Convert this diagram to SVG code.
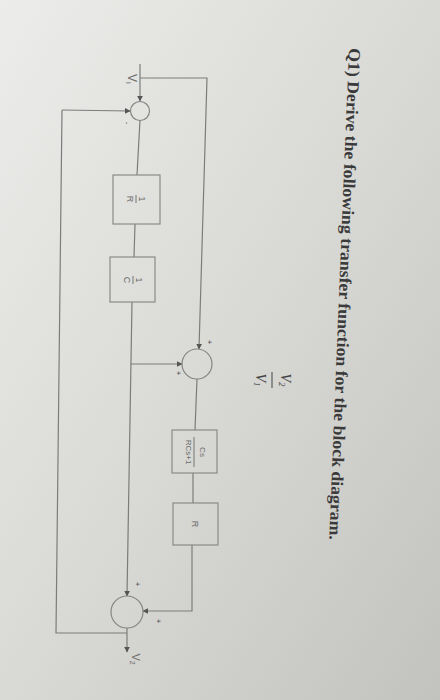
<svg xmlns="http://www.w3.org/2000/svg" width="440" height="700" viewBox="0 0 440 700">
<defs>
<linearGradient id="bg" x1="0" y1="0" x2="1" y2="1">
<stop offset="0" stop-color="#ececea"/>
<stop offset="0.5" stop-color="#d9d9d6"/>
<stop offset="1" stop-color="#c2c2be"/>
</linearGradient>
<marker id="ah" viewBox="0 0 10 10" refX="9" refY="5" markerWidth="6" markerHeight="6" orient="auto" markerUnits="userSpaceOnUse">
<path d="M0,0 L10,5 L0,10 z" fill="#555"/>
</marker>
<style>
.ln{fill:none;stroke:#7c7c7a;stroke-width:1.2}
.box{fill:none;stroke:#8a8a88;stroke-width:1.2}
.sj{fill:none;stroke:#858583;stroke-width:1.2}
.t{font-family:"Liberation Sans",Arial,sans-serif;fill:#6a6a68;text-anchor:middle;dominant-baseline:central}
.sg{font-family:"Liberation Sans",Arial,sans-serif;fill:#555;font-size:8px;text-anchor:middle;dominant-baseline:central}
.ttl{font-family:"Liberation Serif","Times New Roman",serif;fill:#3a3a3a;font-size:17px;font-weight:bold}
.tf{font-family:"Liberation Serif","Times New Roman",serif;fill:#444;font-size:14px;font-style:italic;text-anchor:middle;dominant-baseline:central}
</style>
</defs>
<rect width="440" height="700" fill="url(#bg)"/>
<text class="ttl" transform="translate(349,48) rotate(92.3)" textLength="492" lengthAdjust="spacingAndGlyphs">Q1)  Derive the following transfer function for the block diagram.</text>
<g id="tf" transform="translate(272,380) rotate(90)">
<text class="tf" x="0" y="-13">V<tspan font-size="9" dy="3">2</tspan></text>
<line x1="-8" y1="0" x2="8" y2="0" stroke="#444" stroke-width="1"/>
<text class="tf" x="0" y="12">V<tspan font-size="9" dy="3">1</tspan></text>
</g>
<g id="connectors">
<line class="ln" x1="140" y1="64" x2="140" y2="101" marker-end="url(#ah)"/>
<polyline class="ln" points="140,78 207,78 199,349" marker-end="url(#ah)"/>
<line class="ln" x1="62" y1="110" x2="130" y2="111" marker-end="url(#ah)"/>
<polyline class="ln" points="62,110 56,633 127,633"/>
<line class="ln" x1="140" y1="120" x2="137" y2="175"/>
<line class="ln" x1="135" y1="224" x2="134" y2="257"/>
<line class="ln" x1="132" y1="302" x2="127" y2="596" marker-end="url(#ah)"/>
<line class="ln" x1="131" y1="364" x2="182" y2="364" marker-end="url(#ah)"/>
<line class="ln" x1="197" y1="379" x2="195" y2="430"/>
<line class="ln" x1="193" y1="473" x2="193" y2="503"/>
<polyline class="ln" points="192,545 192,611 143,611" marker-end="url(#ah)"/>
<line class="ln" x1="127" y1="628" x2="127" y2="652" marker-end="url(#ah)"/>
</g>
<g id="vi">
<text class="t" font-size="12" transform="translate(132,79) rotate(90)">V<tspan font-size="8" dy="3">i</tspan></text>
</g>
<g id="sum1">
<circle class="sj" cx="140" cy="111" r="9.5"/>
<text class="sg" transform="translate(127,123) rotate(90)">-</text>
</g>
<g id="blockR1">
<rect class="box" x="113" y="175" width="47" height="49"/>
<g transform="translate(136,199) rotate(90)">
<text class="t" font-size="9" x="0" y="-6">1</text>
<line x1="-4" y1="0" x2="4" y2="0" stroke="#6a6a68" stroke-width="0.9"/>
<text class="t" font-size="9" x="0" y="6">R</text>
</g>
</g>
<g id="blockC1">
<rect class="box" x="110" y="257" width="45" height="45"/>
<g transform="translate(133,280) rotate(90)">
<text class="t" font-size="9" x="0" y="-6">1</text>
<line x1="-4" y1="0" x2="4" y2="0" stroke="#6a6a68" stroke-width="0.9"/>
<text class="t" font-size="9" x="0" y="6">C</text>
</g>
</g>
<g id="sum2">
<circle class="sj" cx="197" cy="364" r="15"/>
<text class="sg" transform="translate(209,342) rotate(90)">+</text>
<text class="sg" transform="translate(178,373) rotate(90)">+</text>
</g>
<g id="blockG">
<rect class="box" x="172" y="430" width="45" height="43"/>
<g transform="translate(194,452) rotate(90)">
<text class="t" font-size="8" x="0" y="-8">Cs</text>
<line x1="-15" y1="0" x2="15" y2="0" stroke="#6a6a68" stroke-width="0.9"/>
<text class="t" font-size="8" x="0" y="6">RCs+1</text>
</g>
</g>
<g id="blockR2">
<rect class="box" x="173" y="503" width="45" height="42"/>
<text class="t" font-size="9" transform="translate(195,524) rotate(90)">R</text>
</g>
<g id="sum3">
<circle class="sj" cx="127" cy="612" r="16"/>
<text class="sg" transform="translate(137,584) rotate(90)">+</text>
<text class="sg" transform="translate(158,621) rotate(90)">+</text>
</g>
<g id="v2">
<text class="t" font-size="11" transform="translate(136,659) rotate(90)">V<tspan font-size="7" dy="3">2</tspan></text>
</g>
</svg>
